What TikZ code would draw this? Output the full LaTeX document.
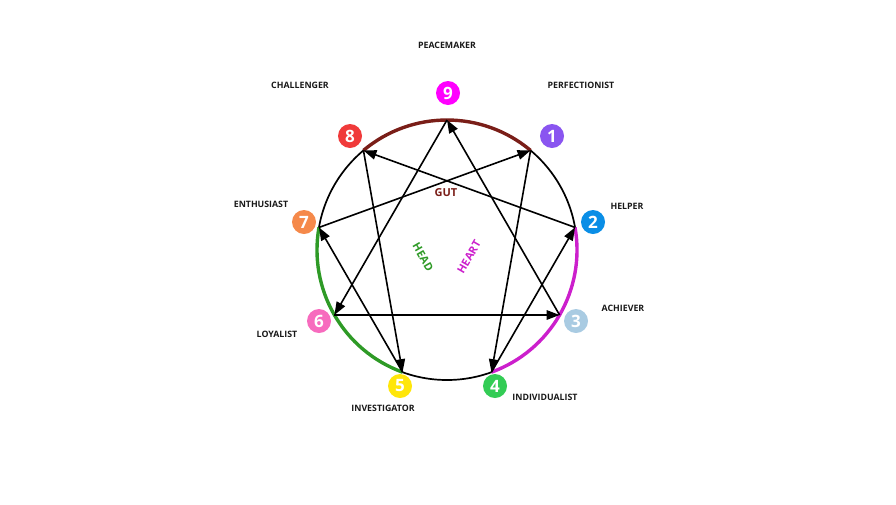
\documentclass[tikz,border=0pt]{standalone}
\usepackage{fontspec}
\setmainfont{Open Sans}
\usetikzlibrary{arrows.meta}
\definecolor{gutc}{HTML}{7A1E18}
\definecolor{headc}{HTML}{2E9A26}
\definecolor{heartc}{HTML}{CC1FCC}
\definecolor{one}{HTML}{8A55F0}
\definecolor{two}{HTML}{0A8EE6}
\definecolor{three}{HTML}{A9CBE2}
\definecolor{four}{HTML}{33CC55}
\definecolor{five}{HTML}{FFE60A}
\definecolor{six}{HTML}{F76BBE}
\definecolor{seven}{HTML}{F5894A}
\definecolor{eight}{HTML}{F03A3A}
\definecolor{nine}{HTML}{FF00FF}
\tikzset{
  badge/.style={circle,fill=#1,text=white,inner sep=0pt,minimum size=24pt,
    font=\fontsize{17}{17}\selectfont\bfseries},
  typename/.style={font=\fontsize{8.8}{9}\selectfont\bfseries,text=black!90},
  centre/.style={font=\fontsize{11}{12}\selectfont\bfseries,text=#1,inner sep=1pt},
  arcline/.style={draw=#1,line width=3.4pt},
  flow/.style={line width=1.6pt,-{Triangle[length=13pt,width=9.5pt]}}
}

\begin{document}
\begin{tikzpicture}[x=1pt,y=1pt]
\useasboundingbox (0,0) rectangle (896,-504);
% points on the circle
\begin{scope}[shift={(447,-250)}]
\coordinate (p9) at (90:130);
\coordinate (p1) at (50:130);
\coordinate (p2) at (10:130);
\coordinate (p3) at (-30:130);
\coordinate (p4) at (-70:130);
\coordinate (p5) at (-110:130);
\coordinate (p6) at (-150:130);
\coordinate (p7) at (170:130);
\coordinate (p8) at (130:130);
\draw[line width=1.7pt] (0,0) circle (130);
\end{scope}
% the three centres
\draw[arcline=gutc] (p8) arc[start angle=130,end angle=50,radius=130];
\draw[arcline=headc] (p7) arc[start angle=170,end angle=250,radius=130];
\draw[arcline=heartc] (p2) arc[start angle=10,end angle=-70,radius=130];
% lines of the figure
\draw[flow] (p7) -- (p1);
\draw[flow] (p1) -- (p4);
\draw[flow] (p4) -- (p2);
\draw[flow] (p2) -- (p8);
\draw[flow] (p8) -- (p5);
\draw[flow] (p5) -- (p7);
\draw[flow] (p6) -- (p3);
\draw[flow] (p3) -- (p9);
\draw[flow] (p9) -- (p6);
% numbers
\node[badge=nine] (b9) at (448,-93) {9};
\node[badge=one] (b1) at (552,-136) {1};
\node[badge=two] (b2) at (593,-222) {2};
\node[badge=three] (b3) at (576,-321) {3};
\node[badge=four] (b4) at (495,-386) {4};
\node[badge=five] (b5) at (400,-386) {5};
\node[badge=six] (b6) at (319,-321) {6};
\node[badge=seven] (b7) at (304,-222) {7};
\node[badge=eight] (b8) at (350,-136) {8};
% type names
\node[typename] (n9) at (447,-45) {PEACEMAKER};
\node[typename] (n8) at (300,-85) {CHALLENGER};
\node[typename] (n1) at (581,-85) {PERFECTIONIST};
\node[typename] (n2) at (627,-206) {HELPER};
\node[typename] (n3) at (623,-308) {ACHIEVER};
\node[typename] (n4) at (545,-397) {INDIVIDUALIST};
\node[typename] (n5) at (383,-408) {INVESTIGATOR};
\node[typename] (n6) at (277,-334) {LOYALIST};
\node[typename] (n7) at (261,-204) {ENTHUSIAST};
\node[centre=gutc] (gut) at (446,-193) {GUT};
\node[centre=headc,rotate=-60] (head) at (423,-257) {HEAD};
\node[centre=heartc,rotate=60] (heart) at (469,-257) {HEART};
\end{tikzpicture}
\end{document}
